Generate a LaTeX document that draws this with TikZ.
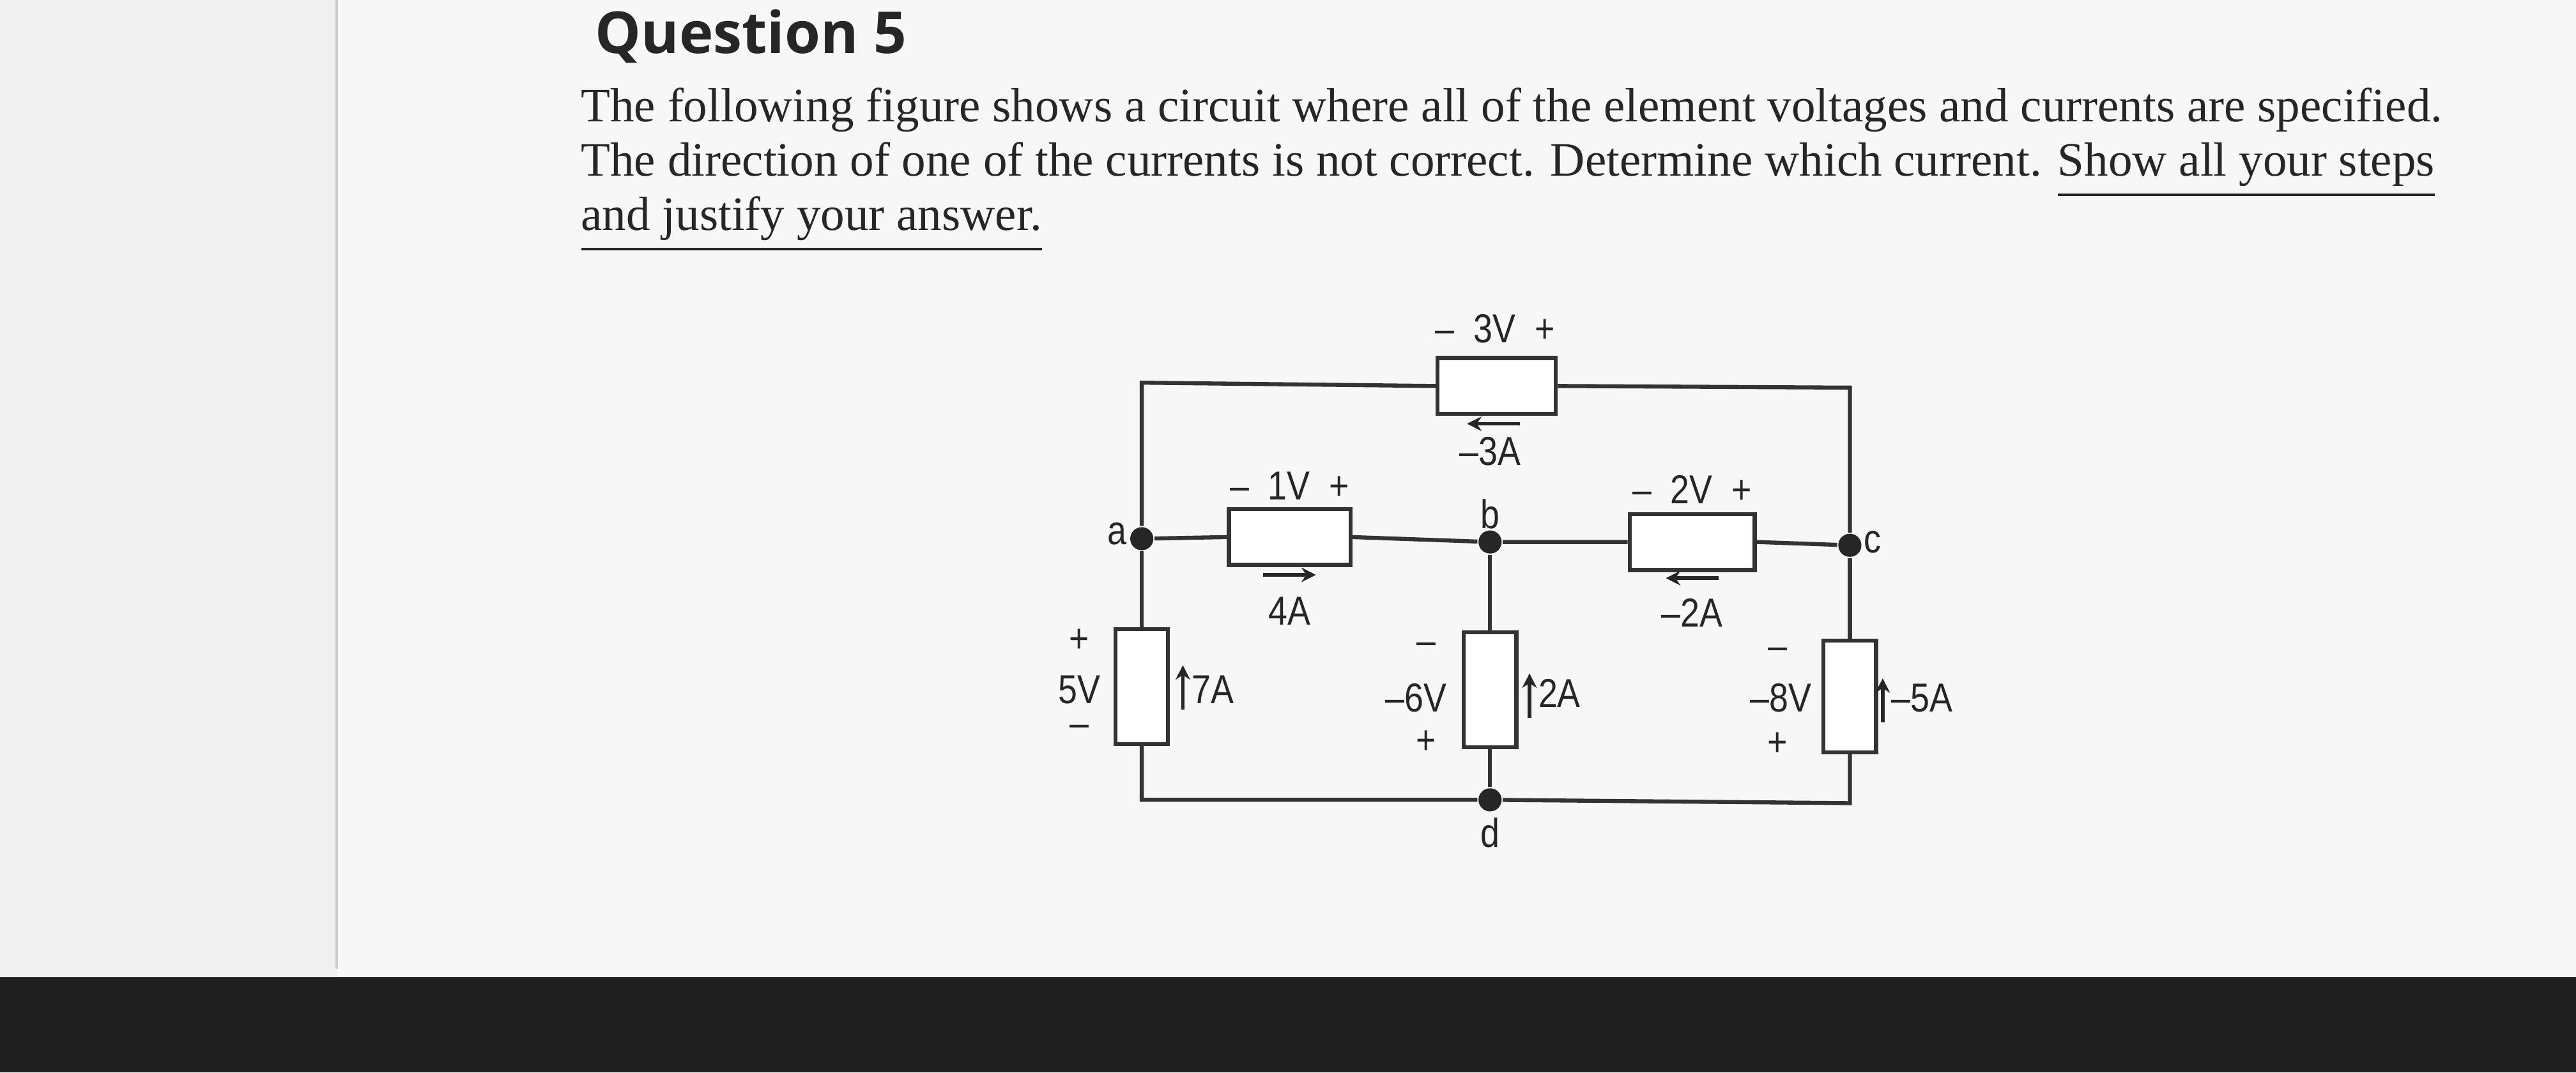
\documentclass[tikz,border=0pt]{standalone}
\usepackage{fontspec}
\setmainfont{Liberation Serif}
\newfontfamily\lsans[FakeStretch=0.85]{Liberation Sans}
\newfontfamily\qsans{Open Sans}
\newcommand\myul[1]{\smash{\underline{#1}}}
\usetikzlibrary{arrows.meta}
\begin{document}
\begin{tikzpicture}[x=0.01cm,y=-0.01cm,
  wire/.style={line width=0.7pt,black!80},
  res/.style={draw=black!80,line width=0.7pt,fill=white,minimum width=#1},
  lbl/.style={font=\lsans\fontsize{7}{8}\selectfont,text=black!85,inner sep=0.5pt},
  dotn/.style={circle,fill=black!85,inner sep=0pt,minimum size=4pt},
  cur/.style={-{Stealth[length=2.5pt,width=2.5pt]},line width=0.6pt,black!85}]
\useasboundingbox (0,0) rectangle (1568,653);
\fill[gray!12] (0,0) rectangle (1568,653);
\fill[gray!6] (205,0) rectangle (1568,595);
\fill[black!88] (0,595) rectangle (1568,653);
\draw[gray!40] (205,0) -- (205,590);
\node[anchor=west,font=\qsans\bfseries\fontsize{10}{12}\selectfont,text=black!85] (q) at (350,22) {Question 5};
\node[anchor=north west,align=left,font=\fontsize{8.3}{9.4}\selectfont,text=black!85,inner sep=0pt] (p) at (353,53)
{The following figure shows a circuit where all of the element voltages and currents are specified.\\
The direction of one of the currents is not correct. Determine which current. \myul{Show all your steps}\\
\myul{and justify your answer.}};
% nodes
\coordinate (tl) at (695,233); \coordinate (tr) at (1126,236);
\node[dotn] (a) at (695,328) {};
\node[dotn] (b) at (907,330) {};
\node[dotn] (c) at (1126,332) {};
\node[dotn] (d) at (907,487) {};
\coordinate (bl) at (695,487); \coordinate (br) at (1126,489);
\node[res=0.72cm,minimum height=0.34cm] (r3) at (911,235) {};
\node[res=0.74cm,minimum height=0.34cm] (r1) at (785,327) {};
\node[res=0.76cm,minimum height=0.34cm] (r2) at (1030,330) {};
\node[res=0.32cm,minimum height=0.70cm] (e5) at (695,418) {};
\node[res=0.32cm,minimum height=0.70cm] (e6) at (907,420) {};
\node[res=0.32cm,minimum height=0.68cm] (e8) at (1126,424) {};
\draw[wire] (a) -- (tl) -- (r3.west);
\draw[wire] (r3.east) -- (tr) -- (c);
\draw[wire] (a) -- (r1.west); \draw[wire] (r1.east) -- (b) -- (r2.west); \draw[wire] (r2.east) -- (c);
\draw[wire] (a) -- (e5.north); \draw[wire] (e5.south) -- (bl) -- (d) -- (br) -- (e8.south);
\draw[wire] (b) -- (e6.north); \draw[wire] (e6.south) -- (d);
\draw[wire] (c) -- (e8.north);
% labels
\node[lbl] at (910,200) {–\ \ 3V\ \ +};
\draw[cur] (925,258) -- (893,258);
\node[lbl] at (907,275) {–3A};
\node[lbl] at (785,296) {–\ \ 1V\ \ +};
\draw[cur] (769,350) -- (801,350);
\node[lbl] at (785,372) {4A};
\node[lbl] at (1030,298) {–\ \ 2V\ \ +};
\draw[cur] (1046,352) -- (1014,352);
\node[lbl] at (1030,373) {–2A};
\node[lbl] (la) at (680,325) {a};
\node[lbl] at (907,313) {b};
\node[lbl] at (1140,330) {c};
\node[lbl] at (907,507) {d};
\node[lbl] at (657,390) {+}; \node[lbl] at (657,420) {5V}; \node[lbl] at (657,445) {–};
\draw[cur] (720,432) -- (720,405); \node[lbl,anchor=west] at (723,420) {7A};
\node[lbl] at (868,395) {–}; \node[lbl] at (862,425) {–6V}; \node[lbl] at (868,452) {+};
\draw[cur] (931,437) -- (931,410); \node[lbl,anchor=west] at (934,422) {2A};
\node[lbl] at (1082,398) {–}; \node[lbl] at (1084,425) {–8V}; \node[lbl] at (1082,453) {+};
\draw[cur] (1146,440) -- (1146,413); \node[lbl,anchor=west] at (1149,425) {–5A};
\end{tikzpicture}
\end{document}
